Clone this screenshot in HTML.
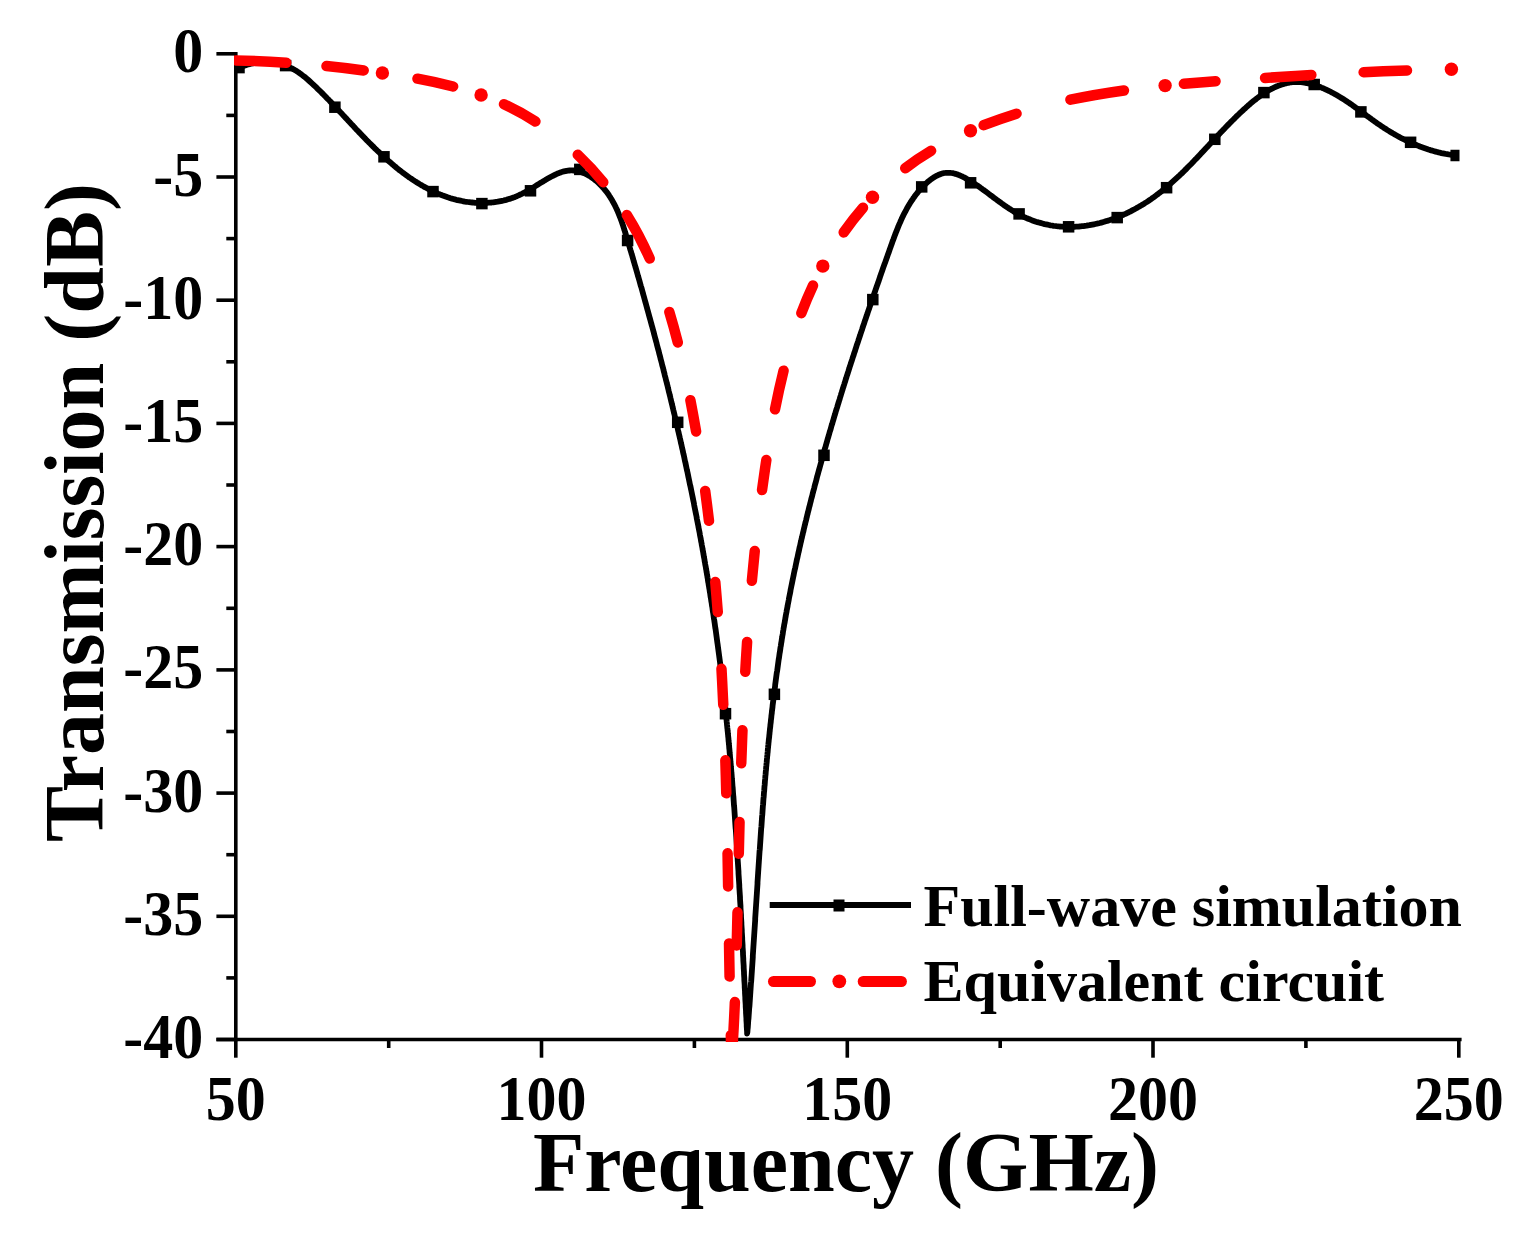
<!DOCTYPE html>
<html><head><meta charset="utf-8"><title>Transmission plot</title><style>html,body{margin:0;padding:0;background:#fff;overflow:hidden;}svg{display:block;}</style></head><body>
<svg width="1528" height="1239" viewBox="0 0 1528 1239">
<defs><clipPath id="pc"><rect x="234" y="40" width="1225.5" height="1002"/></clipPath></defs>
<rect width="1528" height="1239" fill="#fff"/>
<g stroke="#000" stroke-width="3.6" fill="none">
<line x1="235.8" y1="52" x2="235.8" y2="1041.3"/>
<line x1="216.4" y1="1039.5" x2="1461.6" y2="1039.5"/>
<line x1="216.4" y1="53.8" x2="235.8" y2="53.8"/>
<line x1="216.4" y1="177.0" x2="235.8" y2="177.0"/>
<line x1="216.4" y1="300.2" x2="235.8" y2="300.2"/>
<line x1="216.4" y1="423.4" x2="235.8" y2="423.4"/>
<line x1="216.4" y1="546.6" x2="235.8" y2="546.6"/>
<line x1="216.4" y1="669.9" x2="235.8" y2="669.9"/>
<line x1="216.4" y1="793.1" x2="235.8" y2="793.1"/>
<line x1="216.4" y1="916.3" x2="235.8" y2="916.3"/>
<line x1="216.4" y1="1039.5" x2="235.8" y2="1039.5"/>
<line x1="226.3" y1="115.4" x2="235.8" y2="115.4"/>
<line x1="226.3" y1="238.6" x2="235.8" y2="238.6"/>
<line x1="226.3" y1="361.8" x2="235.8" y2="361.8"/>
<line x1="226.3" y1="485.0" x2="235.8" y2="485.0"/>
<line x1="226.3" y1="608.3" x2="235.8" y2="608.3"/>
<line x1="226.3" y1="731.5" x2="235.8" y2="731.5"/>
<line x1="226.3" y1="854.7" x2="235.8" y2="854.7"/>
<line x1="226.3" y1="977.9" x2="235.8" y2="977.9"/>
<line x1="235.8" y1="1039.5" x2="235.8" y2="1057.7"/>
<line x1="541.5" y1="1039.5" x2="541.5" y2="1057.7"/>
<line x1="847.3" y1="1039.5" x2="847.3" y2="1057.7"/>
<line x1="1153.0" y1="1039.5" x2="1153.0" y2="1057.7"/>
<line x1="1458.8" y1="1039.5" x2="1458.8" y2="1057.7"/>
<line x1="388.7" y1="1039.5" x2="388.7" y2="1048"/>
<line x1="694.4" y1="1039.5" x2="694.4" y2="1048"/>
<line x1="1000.2" y1="1039.5" x2="1000.2" y2="1048"/>
<line x1="1305.9" y1="1039.5" x2="1305.9" y2="1048"/>
</g>
<g clip-path="url(#pc)">
<path d="M239.0,67.6 L240.5,67.0 L242.0,66.4 L243.5,65.9 L245.0,65.4 L246.5,64.9 L248.0,64.5 L249.5,64.1 L251.0,63.7 L252.5,63.4 L254.1,63.1 L255.6,62.9 L257.1,62.7 L258.6,62.5 L260.1,62.4 L261.6,62.3 L263.1,62.2 L264.6,62.2 L266.2,62.2 L267.6,62.2 L269.1,62.3 L270.6,62.4 L272.1,62.6 L273.6,62.8 L275.0,63.0 L276.5,63.2 L277.9,63.5 L279.4,63.9 L280.8,64.2 L282.2,64.6 L283.6,65.1 L285.0,65.5 L286.4,66.0 L287.8,66.6 L289.1,67.2 L290.5,67.8 L291.8,68.4 L293.1,69.1 L294.4,69.8 L295.7,70.6 L296.9,71.3 L298.2,72.2 L299.4,73.0 L300.6,73.9 L301.8,74.8 L303.0,75.7 L304.2,76.6 L305.4,77.6 L306.5,78.5 L307.7,79.5 L308.8,80.5 L309.9,81.5 L311.1,82.6 L312.2,83.6 L313.3,84.6 L314.4,85.7 L315.5,86.7 L316.6,87.7 L317.6,88.8 L318.7,89.8 L319.8,90.9 L320.9,91.9 L321.9,93.0 L323.0,94.0 L324.0,95.1 L325.1,96.1 L326.1,97.2 L327.1,98.3 L328.2,99.3 L329.2,100.4 L330.2,101.5 L331.3,102.5 L332.3,103.6 L333.3,104.7 L334.3,105.8 L335.4,106.8 L336.4,107.9 L337.4,109.0 L338.4,110.1 L339.4,111.2 L340.4,112.3 L341.4,113.3 L342.4,114.4 L343.4,115.5 L344.5,116.6 L345.5,117.7 L346.5,118.8 L347.5,119.9 L348.5,121.0 L349.5,122.0 L350.5,123.1 L351.5,124.2 L352.6,125.3 L353.6,126.4 L354.6,127.5 L355.6,128.6 L356.6,129.7 L357.7,130.8 L358.7,131.9 L359.7,132.9 L360.8,134.0 L361.8,135.1 L362.9,136.2 L363.9,137.3 L365.0,138.4 L366.0,139.5 L367.1,140.6 L368.2,141.6 L369.2,142.7 L370.3,143.8 L371.4,144.9 L372.5,146.0 L373.6,147.0 L374.6,148.1 L375.7,149.2 L376.8,150.2 L377.9,151.3 L379.1,152.3 L380.2,153.4 L381.3,154.4 L382.4,155.5 L383.5,156.5 L384.7,157.5 L385.8,158.6 L386.9,159.6 L388.1,160.6 L389.2,161.6 L390.4,162.6 L391.6,163.6 L392.7,164.6 L393.9,165.6 L395.1,166.5 L396.2,167.5 L397.4,168.5 L398.6,169.4 L399.8,170.4 L401.0,171.3 L402.2,172.2 L403.4,173.1 L404.6,174.0 L405.8,174.9 L407.1,175.8 L408.3,176.7 L409.5,177.6 L410.8,178.4 L412.0,179.3 L413.3,180.1 L414.5,180.9 L415.8,181.7 L417.0,182.5 L418.3,183.3 L419.6,184.1 L420.9,184.9 L422.2,185.6 L423.5,186.4 L424.8,187.1 L426.1,187.8 L427.4,188.5 L428.7,189.2 L430.0,189.9 L431.3,190.5 L432.7,191.2 L434.0,191.8 L435.3,192.4 L436.7,193.0 L438.0,193.6 L439.4,194.2 L440.8,194.8 L442.1,195.3 L443.5,195.8 L444.9,196.3 L446.3,196.8 L447.7,197.3 L449.1,197.7 L450.5,198.2 L451.9,198.6 L453.3,199.0 L454.8,199.4 L456.2,199.8 L457.6,200.1 L459.1,200.4 L460.5,200.7 L462.0,201.0 L463.4,201.3 L464.9,201.6 L466.4,201.8 L467.9,202.0 L469.3,202.2 L470.8,202.4 L472.3,202.5 L473.8,202.6 L475.3,202.8 L476.8,202.8 L478.3,202.9 L479.8,202.9 L481.3,203.0 L482.8,203.0 L484.3,202.9 L485.8,202.9 L487.3,202.8 L488.8,202.7 L490.3,202.6 L491.7,202.5 L493.2,202.3 L494.7,202.1 L496.2,201.9 L497.7,201.7 L499.2,201.4 L500.6,201.1 L502.1,200.8 L503.6,200.5 L505.0,200.1 L506.5,199.8 L507.9,199.3 L509.4,198.9 L510.8,198.4 L512.2,198.0 L513.6,197.4 L515.1,196.9 L516.5,196.3 L517.9,195.7 L519.2,195.1 L520.6,194.4 L522.0,193.8 L523.3,193.1 L524.7,192.4 L526.0,191.6 L527.4,190.9 L528.7,190.1 L530.1,189.3 L531.4,188.5 L532.7,187.7 L534.1,186.9 L535.4,186.1 L536.7,185.3 L538.0,184.5 L539.4,183.6 L540.7,182.8 L542.1,182.0 L543.4,181.2 L544.7,180.4 L546.1,179.6 L547.4,178.8 L548.8,178.0 L550.2,177.2 L551.5,176.5 L552.9,175.8 L554.3,175.1 L555.6,174.5 L557.0,173.8 L558.4,173.3 L559.8,172.7 L561.1,172.2 L562.5,171.8 L563.9,171.4 L565.3,171.1 L566.6,170.8 L568.0,170.6 L569.4,170.5 L570.8,170.4 L572.1,170.4 L573.5,170.5 L574.8,170.6 L576.2,170.8 L577.6,171.1 L578.9,171.4 L580.2,171.8 L581.6,172.2 L582.9,172.7 L584.2,173.2 L585.5,173.8 L586.7,174.5 L588.0,175.2 L589.3,175.9 L590.5,176.7 L591.7,177.5 L592.9,178.4 L594.1,179.2 L595.3,180.2 L596.4,181.1 L597.6,182.1 L598.7,183.1 L599.8,184.2 L600.8,185.3 L601.9,186.4 L602.9,187.5 L603.9,188.6 L604.9,189.8 L605.8,190.9 L606.7,192.1 L607.6,193.3 L608.5,194.5 L609.3,195.8 L610.1,197.0 L610.9,198.3 L611.7,199.5 L612.4,200.8 L613.1,202.1 L613.8,203.4 L614.5,204.7 L615.2,206.0 L615.8,207.3 L616.5,208.7 L617.1,210.0 L617.7,211.4 L618.3,212.8 L618.8,214.1 L619.4,215.5 L619.9,216.9 L620.5,218.3 L621.0,219.7 L621.5,221.1 L622.0,222.5 L622.5,223.9 L623.0,225.4 L623.4,226.8 L623.9,228.2 L624.3,229.7 L624.8,231.1 L625.2,232.5 L625.7,234.0 L626.1,235.4 L626.6,236.9 L627.0,238.3 L627.4,239.8 L627.9,241.2 L628.3,242.7 L628.7,244.1 L629.2,245.6 L629.6,247.0 L630.0,248.5 L630.4,249.9 L630.9,251.4 L631.3,252.8 L631.7,254.2 L632.2,255.7 L632.6,257.1 L633.0,258.6 L633.4,260.0 L633.8,261.5 L634.3,262.9 L634.7,264.4 L635.1,265.8 L635.5,267.3 L636.0,268.7 L636.4,270.2 L636.8,271.6 L637.2,273.1 L637.6,274.5 L638.0,276.0 L638.5,277.4 L638.9,278.9 L639.3,280.3 L639.7,281.8 L640.1,283.2 L640.5,284.7 L640.9,286.1 L641.4,287.6 L641.8,289.1 L642.2,290.5 L642.6,292.0 L643.0,293.4 L643.4,294.9 L643.8,296.3 L644.2,297.8 L644.6,299.2 L645.0,300.7 L645.4,302.1 L645.8,303.6 L646.2,305.0 L646.6,306.5 L647.0,307.9 L647.4,309.4 L647.8,310.8 L648.2,312.3 L648.6,313.7 L649.0,315.2 L649.4,316.7 L649.8,318.1 L650.2,319.6 L650.6,321.0 L651.0,322.5 L651.4,323.9 L651.8,325.4 L652.2,326.8 L652.6,328.3 L653.0,329.7 L653.4,331.2 L653.8,332.6 L654.1,334.1 L654.5,335.6 L654.9,337.0 L655.3,338.5 L655.7,339.9 L656.1,341.4 L656.5,342.8 L656.8,344.3 L657.2,345.7 L657.6,347.2 L658.0,348.7 L658.4,350.1 L658.8,351.6 L659.1,353.0 L659.5,354.5 L659.9,355.9 L660.3,357.4 L660.6,358.9 L661.0,360.3 L661.4,361.8 L661.8,363.2 L662.1,364.7 L662.5,366.1 L662.9,367.6 L663.3,369.1 L663.6,370.5 L664.0,372.0 L664.4,373.4 L664.7,374.9 L665.1,376.4 L665.5,377.8 L665.8,379.3 L666.2,380.7 L666.6,382.2 L666.9,383.6 L667.3,385.1 L667.7,386.6 L668.0,388.0 L668.4,389.5 L668.7,390.9 L669.1,392.4 L669.5,393.9 L669.8,395.3 L670.2,396.8 L670.5,398.2 L670.9,399.7 L671.2,401.2 L671.6,402.6 L671.9,404.1 L672.3,405.6 L672.6,407.0 L673.0,408.5 L673.3,409.9 L673.7,411.4 L674.0,412.9 L674.4,414.3 L674.7,415.8 L675.1,417.2 L675.4,418.7 L675.8,420.2 L676.1,421.6 L676.4,423.1 L676.8,424.6 L677.1,426.0 L677.5,427.5 L677.8,428.9 L678.1,430.4 L678.5,431.9 L678.8,433.3 L679.1,434.8 L679.5,436.3 L679.8,437.7 L680.2,439.2 L680.5,440.7 L680.8,442.1 L681.1,443.6 L681.5,445.1 L681.8,446.5 L682.1,448.0 L682.5,449.5 L682.8,450.9 L683.1,452.4 L683.4,453.8 L683.8,455.3 L684.1,456.8 L684.4,458.2 L684.7,459.7 L685.0,461.2 L685.4,462.6 L685.7,464.1 L686.0,465.6 L686.3,467.0 L686.6,468.5 L686.9,470.0 L687.3,471.5 L687.6,472.9 L687.9,474.4 L688.2,475.9 L688.5,477.3 L688.8,478.8 L689.1,480.3 L689.4,481.7 L689.7,483.2 L690.0,484.7 L690.4,486.1 L690.7,487.6 L691.0,489.1 L691.3,490.5 L691.6,492.0 L691.9,493.5 L692.2,495.0 L692.5,496.4 L692.8,497.9 L693.1,499.4 L693.4,500.8 L693.7,502.3 L694.0,503.8 L694.2,505.2 L694.5,506.7 L694.8,508.2 L695.1,509.7 L695.4,511.1 L695.7,512.6 L696.0,514.1 L696.3,515.5 L696.6,517.0 L696.8,518.5 L697.1,520.0 L697.4,521.4 L697.7,522.9 L698.0,524.4 L698.3,525.9 L698.5,527.3 L698.8,528.8 L699.1,530.3 L699.4,531.7 L699.7,533.2 L699.9,534.7 L700.2,536.2 L700.5,537.6 L700.8,539.1 L701.0,540.6 L701.3,542.1 L701.6,543.5 L701.8,545.0 L702.1,546.5 L702.4,548.0 L702.6,549.4 L702.9,550.9 L703.2,552.4 L703.4,553.9 L703.7,555.4 L703.9,556.8 L704.2,558.3 L704.5,559.8 L704.7,561.3 L705.0,562.7 L705.2,564.2 L705.5,565.7 L705.8,567.2 L706.0,568.6 L706.3,570.1 L706.5,571.6 L706.8,573.1 L707.0,574.6 L707.3,576.0 L707.5,577.5 L707.8,579.0 L708.0,580.5 L708.2,582.0 L708.5,583.4 L708.7,584.9 L709.0,586.4 L709.2,587.9 L709.5,589.4 L709.7,590.8 L709.9,592.3 L710.2,593.8 L710.4,595.3 L710.6,596.8 L710.9,598.2 L711.1,599.7 L711.3,601.2 L711.6,602.7 L711.8,604.2 L712.0,605.6 L712.3,607.1 L712.5,608.6 L712.7,610.1 L712.9,611.6 L713.2,613.1 L713.4,614.5 L713.6,616.0 L713.8,617.5 L714.0,619.0 L714.3,620.5 L714.5,622.0 L714.7,623.4 L714.9,624.9 L715.1,626.4 L715.3,627.9 L715.6,629.4 L715.8,630.9 L716.0,632.4 L716.2,633.8 L716.4,635.3 L716.6,636.8 L716.8,638.3 L717.0,639.8 L717.2,641.3 L717.4,642.8 L717.6,644.2 L717.8,645.7 L718.0,647.2 L718.2,648.7 L718.4,650.2 L718.6,651.7 L718.8,653.2 L719.0,654.7 L719.2,656.1 L719.4,657.6 L719.6,659.1 L719.8,660.6 L720.0,662.1 L720.2,663.6 L720.3,665.1 L720.5,666.6 L720.7,668.1 L720.9,669.5 L721.1,671.0 L721.3,672.5 L721.4,674.0 L721.6,675.5 L721.8,677.0 L722.0,678.5 L722.2,680.0 L722.3,681.5 L722.5,683.0 L722.7,684.4 L722.9,685.9 L723.0,687.4 L723.2,688.9 L723.4,690.4 L723.5,691.9 L723.7,693.4 L723.9,694.9 L724.0,696.4 L724.2,697.9 L724.4,699.4 L724.5,700.9 L724.7,702.4 L724.9,703.8 L725.0,705.3 L725.2,706.8 L725.4,708.3 L725.5,709.8 L725.7,711.3 L725.8,712.8 L726.0,714.3 L726.1,715.8 L726.3,717.3 L726.4,718.8 L726.6,720.3 L726.7,721.8 L726.9,723.3 L727.0,724.8 L727.2,726.3 L727.3,727.8 L727.5,729.2 L727.6,730.7 L727.8,732.2 L727.9,733.7 L728.1,735.2 L728.2,736.7 L728.4,738.2 L728.5,739.7 L728.6,741.2 L728.8,742.7 L728.9,744.2 L729.1,745.7 L729.2,747.2 L729.3,748.7 L729.5,750.2 L729.6,751.7 L729.7,753.2 L729.9,754.7 L730.0,756.2 L730.1,757.7 L730.3,759.2 L730.4,760.7 L730.5,762.2 L730.7,763.7 L730.8,765.2 L730.9,766.7 L731.1,768.2 L731.2,769.7 L731.3,771.2 L731.4,772.7 L731.6,774.2 L731.7,775.7 L731.8,777.2 L731.9,778.7 L732.1,780.2 L732.2,781.7 L732.3,783.2 L732.4,784.7 L732.5,786.2 L732.7,787.6 L732.8,789.1 L732.9,790.6 L733.0,792.1 L733.1,793.6 L733.2,795.1 L733.4,796.6 L733.5,798.1 L733.6,799.6 L733.7,801.1 L733.8,802.6 L733.9,804.1 L734.0,805.6 L734.2,807.1 L734.3,808.6 L734.4,810.1 L734.5,811.6 L734.6,813.1 L734.7,814.6 L734.8,816.1 L734.9,817.6 L735.0,819.1 L735.1,820.6 L735.2,822.1 L735.3,823.6 L735.4,825.1 L735.5,826.6 L735.6,828.1 L735.8,829.6 L735.9,831.1 L736.0,832.6 L736.1,834.1 L736.2,835.6 L736.3,837.1 L736.4,838.7 L736.5,840.2 L736.6,841.7 L736.7,843.2 L736.8,844.7 L736.9,846.2 L737.0,847.7 L737.1,849.2 L737.1,850.7 L737.2,852.2 L737.3,853.7 L737.4,855.2 L737.5,856.7 L737.6,858.2 L737.7,859.7 L737.8,861.2 L737.9,862.7 L738.0,864.2 L738.1,865.7 L738.2,867.2 L738.3,868.7 L738.4,870.2 L738.5,871.7 L738.5,873.2 L738.6,874.7 L738.7,876.2 L738.8,877.7 L738.9,879.2 L739.0,880.7 L739.1,882.2 L739.2,883.7 L739.3,885.2 L739.3,886.7 L739.4,888.2 L739.5,889.7 L739.6,891.2 L739.7,892.7 L739.8,894.2 L739.9,895.7 L740.0,897.2 L740.0,898.7 L740.1,900.2 L740.2,901.7 L740.3,903.2 L740.4,904.7 L740.5,906.2 L740.5,907.7 L740.6,909.2 L740.7,910.7 L740.8,912.2 L740.9,913.7 L741.0,915.2 L741.0,916.7 L741.1,918.2 L741.2,919.7 L741.3,921.2 L741.4,922.7 L741.4,924.2 L741.5,925.7 L741.6,927.2 L741.7,928.7 L741.8,930.2 L741.8,931.7 L741.9,933.2 L742.0,934.7 L742.1,936.2 L742.2,937.7 L742.2,939.2 L742.3,940.7 L742.4,942.2 L742.5,943.7 L742.6,945.2 L742.6,946.7 L742.7,948.2 L742.8,949.7 L742.9,951.2 L743.0,952.7 L743.0,954.2 L743.1,955.7 L743.2,957.2 L743.3,958.7 L743.3,960.2 L743.4,961.7 L743.5,963.2 L743.6,964.7 L743.7,966.2 L743.7,967.7 L743.8,969.2 L743.9,970.7 L744.0,972.2 L744.0,973.7 L744.1,975.2 L744.2,976.7 L744.3,978.2 L744.3,979.7 L744.4,981.2 L744.5,982.6 L744.6,984.1 L744.7,985.6 L744.7,987.1 L744.8,988.6 L744.9,990.1 L745.0,991.6 L745.0,993.1 L745.1,994.6 L745.2,996.1 L745.3,997.6 L745.3,999.1 L745.4,1000.6 L745.5,1002.1 L745.6,1003.6 L745.7,1005.1 L745.7,1006.6 L745.8,1008.1 L745.9,1009.6 L746.0,1011.1 L746.0,1012.6 L746.1,1014.1 L746.2,1015.6 L746.3,1017.1 L746.4,1018.6 L746.4,1020.0 L746.5,1021.5 L746.6,1023.0 L746.7,1024.5 L746.7,1026.0 L746.8,1027.5 L746.9,1029.0 L747.0,1030.5 L747.1,1032.0 L747.1,1033.5 L747.4,1032.0 L747.5,1030.5 L747.6,1029.0 L747.8,1027.5 L747.9,1026.1 L748.0,1024.6 L748.1,1023.1 L748.2,1021.6 L748.3,1020.1 L748.5,1018.6 L748.6,1017.1 L748.7,1015.6 L748.8,1014.1 L748.9,1012.7 L749.0,1011.2 L749.1,1009.7 L749.2,1008.2 L749.4,1006.7 L749.5,1005.2 L749.6,1003.7 L749.7,1002.2 L749.8,1000.7 L749.9,999.2 L750.0,997.7 L750.1,996.2 L750.2,994.8 L750.3,993.3 L750.4,991.8 L750.5,990.3 L750.6,988.8 L750.7,987.3 L750.8,985.8 L750.9,984.3 L751.0,982.8 L751.2,981.3 L751.3,979.8 L751.4,978.3 L751.5,976.8 L751.6,975.3 L751.7,973.8 L751.8,972.3 L751.9,970.8 L752.0,969.3 L752.1,967.9 L752.2,966.4 L752.3,964.9 L752.4,963.4 L752.5,961.9 L752.6,960.4 L752.7,958.9 L752.8,957.4 L752.8,955.9 L752.9,954.4 L753.0,952.9 L753.1,951.4 L753.2,949.9 L753.3,948.4 L753.4,946.9 L753.5,945.4 L753.6,943.9 L753.7,942.4 L753.8,940.9 L753.9,939.4 L754.0,937.9 L754.1,936.4 L754.2,934.9 L754.3,933.4 L754.4,931.9 L754.5,930.4 L754.6,928.9 L754.7,927.4 L754.8,925.9 L754.9,924.4 L755.0,922.9 L755.1,921.4 L755.2,919.9 L755.2,918.4 L755.3,916.9 L755.4,915.4 L755.5,913.9 L755.6,912.4 L755.7,910.9 L755.8,909.4 L755.9,907.9 L756.0,906.4 L756.1,904.9 L756.2,903.4 L756.3,901.9 L756.4,900.4 L756.5,898.9 L756.6,897.4 L756.7,895.9 L756.8,894.4 L756.9,892.9 L757.0,891.4 L757.1,889.9 L757.2,888.4 L757.3,886.9 L757.4,885.4 L757.5,883.9 L757.5,882.4 L757.6,880.9 L757.7,879.4 L757.8,877.9 L757.9,876.4 L758.0,874.9 L758.1,873.4 L758.2,871.9 L758.3,870.4 L758.4,868.9 L758.5,867.4 L758.6,865.9 L758.7,864.4 L758.8,862.9 L758.9,861.4 L759.0,859.9 L759.1,858.4 L759.2,856.9 L759.3,855.4 L759.4,853.9 L759.5,852.3 L759.6,850.8 L759.8,849.3 L759.9,847.8 L760.0,846.3 L760.1,844.8 L760.2,843.3 L760.3,841.8 L760.4,840.3 L760.5,838.8 L760.6,837.3 L760.7,835.8 L760.8,834.3 L760.9,832.8 L761.0,831.3 L761.1,829.8 L761.2,828.3 L761.4,826.8 L761.5,825.3 L761.6,823.8 L761.7,822.3 L761.8,820.8 L761.9,819.3 L762.0,817.8 L762.1,816.3 L762.3,814.8 L762.4,813.3 L762.5,811.8 L762.6,810.3 L762.7,808.8 L762.8,807.3 L762.9,805.8 L763.1,804.3 L763.2,802.8 L763.3,801.3 L763.4,799.8 L763.5,798.3 L763.7,796.8 L763.8,795.3 L763.9,793.8 L764.0,792.3 L764.2,790.8 L764.3,789.3 L764.4,787.8 L764.5,786.3 L764.7,784.8 L764.8,783.3 L764.9,781.8 L765.0,780.3 L765.2,778.8 L765.3,777.3 L765.4,775.8 L765.6,774.3 L765.7,772.8 L765.8,771.3 L766.0,769.8 L766.1,768.3 L766.2,766.8 L766.4,765.3 L766.5,763.8 L766.7,762.3 L766.8,760.8 L766.9,759.3 L767.1,757.8 L767.2,756.3 L767.4,754.8 L767.5,753.3 L767.7,751.8 L767.8,750.3 L767.9,748.8 L768.1,747.3 L768.2,745.8 L768.4,744.3 L768.5,742.8 L768.7,741.4 L768.8,739.9 L769.0,738.4 L769.2,736.9 L769.3,735.4 L769.5,733.9 L769.6,732.4 L769.8,730.9 L769.9,729.4 L770.1,727.9 L770.3,726.4 L770.4,724.9 L770.6,723.4 L770.8,721.9 L770.9,720.4 L771.1,718.9 L771.3,717.4 L771.4,715.9 L771.6,714.4 L771.8,713.0 L771.9,711.5 L772.1,710.0 L772.3,708.5 L772.5,707.0 L772.6,705.5 L772.8,704.0 L773.0,702.5 L773.2,701.0 L773.4,699.5 L773.5,698.0 L773.7,696.5 L773.9,695.1 L774.1,693.6 L774.3,692.1 L774.5,690.6 L774.7,689.1 L774.9,687.6 L775.1,686.1 L775.2,684.6 L775.4,683.1 L775.6,681.7 L775.8,680.2 L776.0,678.7 L776.2,677.2 L776.4,675.7 L776.6,674.2 L776.8,672.7 L777.1,671.2 L777.3,669.8 L777.5,668.3 L777.7,666.8 L777.9,665.3 L778.1,663.8 L778.3,662.3 L778.5,660.8 L778.7,659.4 L779.0,657.9 L779.2,656.4 L779.4,654.9 L779.6,653.4 L779.9,651.9 L780.1,650.5 L780.3,649.0 L780.5,647.5 L780.8,646.0 L781.0,644.5 L781.2,643.1 L781.5,641.6 L781.7,640.1 L781.9,638.6 L782.2,637.1 L782.4,635.7 L782.7,634.2 L782.9,632.7 L783.1,631.2 L783.4,629.7 L783.6,628.3 L783.9,626.8 L784.1,625.3 L784.4,623.8 L784.7,622.4 L784.9,620.9 L785.2,619.4 L785.4,617.9 L785.7,616.4 L785.9,615.0 L786.2,613.5 L786.5,612.0 L786.7,610.5 L787.0,609.1 L787.3,607.6 L787.6,606.1 L787.8,604.7 L788.1,603.2 L788.4,601.7 L788.7,600.2 L788.9,598.8 L789.2,597.3 L789.5,595.8 L789.8,594.4 L790.1,592.9 L790.4,591.4 L790.6,589.9 L790.9,588.5 L791.2,587.0 L791.5,585.5 L791.8,584.1 L792.1,582.6 L792.4,581.1 L792.7,579.7 L793.0,578.2 L793.3,576.7 L793.6,575.3 L793.9,573.8 L794.2,572.3 L794.5,570.9 L794.8,569.4 L795.2,567.9 L795.5,566.5 L795.8,565.0 L796.1,563.5 L796.4,562.1 L796.7,560.6 L797.0,559.1 L797.4,557.7 L797.7,556.2 L798.0,554.7 L798.3,553.3 L798.7,551.8 L799.0,550.4 L799.3,548.9 L799.6,547.4 L800.0,546.0 L800.3,544.5 L800.6,543.1 L801.0,541.6 L801.3,540.1 L801.6,538.7 L802.0,537.2 L802.3,535.7 L802.7,534.3 L803.0,532.8 L803.4,531.4 L803.7,529.9 L804.0,528.5 L804.4,527.0 L804.7,525.5 L805.1,524.1 L805.4,522.6 L805.8,521.2 L806.2,519.7 L806.5,518.3 L806.9,516.8 L807.2,515.3 L807.6,513.9 L807.9,512.4 L808.3,511.0 L808.7,509.5 L809.0,508.1 L809.4,506.6 L809.8,505.2 L810.1,503.7 L810.5,502.3 L810.9,500.8 L811.2,499.3 L811.6,497.9 L812.0,496.4 L812.4,495.0 L812.7,493.5 L813.1,492.1 L813.5,490.6 L813.9,489.2 L814.3,487.7 L814.6,486.3 L815.0,484.8 L815.4,483.4 L815.8,481.9 L816.2,480.5 L816.6,479.0 L816.9,477.6 L817.3,476.1 L817.7,474.7 L818.1,473.2 L818.5,471.8 L818.9,470.3 L819.3,468.9 L819.7,467.4 L820.1,466.0 L820.5,464.5 L820.9,463.1 L821.3,461.7 L821.7,460.2 L822.1,458.8 L822.5,457.3 L822.9,455.9 L823.3,454.4 L823.7,453.0 L824.1,451.5 L824.5,450.1 L824.9,448.6 L825.4,447.2 L825.8,445.7 L826.2,444.3 L826.6,442.9 L827.0,441.4 L827.4,440.0 L827.8,438.5 L828.3,437.1 L828.7,435.6 L829.1,434.2 L829.5,432.8 L829.9,431.3 L830.4,429.9 L830.8,428.4 L831.2,427.0 L831.6,425.5 L832.1,424.1 L832.5,422.7 L832.9,421.2 L833.4,419.8 L833.8,418.3 L834.2,416.9 L834.6,415.5 L835.1,414.0 L835.5,412.6 L835.9,411.1 L836.4,409.7 L836.8,408.3 L837.3,406.8 L837.7,405.4 L838.1,404.0 L838.6,402.5 L839.0,401.1 L839.5,399.6 L839.9,398.2 L840.3,396.8 L840.8,395.3 L841.2,393.9 L841.7,392.4 L842.1,391.0 L842.6,389.6 L843.0,388.1 L843.5,386.7 L843.9,385.3 L844.4,383.8 L844.8,382.4 L845.3,381.0 L845.7,379.5 L846.2,378.1 L846.6,376.7 L847.1,375.2 L847.6,373.8 L848.0,372.4 L848.5,370.9 L848.9,369.5 L849.4,368.0 L849.8,366.6 L850.3,365.2 L850.8,363.7 L851.2,362.3 L851.7,360.9 L852.2,359.4 L852.6,358.0 L853.1,356.6 L853.6,355.2 L854.0,353.7 L854.5,352.3 L855.0,350.9 L855.4,349.4 L855.9,348.0 L856.4,346.6 L856.8,345.1 L857.3,343.7 L857.8,342.3 L858.3,340.8 L858.7,339.4 L859.2,338.0 L859.7,336.5 L860.2,335.1 L860.6,333.7 L861.1,332.3 L861.6,330.8 L862.1,329.4 L862.5,328.0 L863.0,326.5 L863.5,325.1 L864.0,323.7 L864.5,322.2 L864.9,320.8 L865.4,319.4 L865.9,318.0 L866.4,316.5 L866.9,315.1 L867.4,313.7 L867.8,312.3 L868.3,310.8 L868.8,309.4 L869.3,308.0 L869.8,306.5 L870.3,305.1 L870.8,303.7 L871.3,302.3 L871.7,300.8 L872.2,299.4 L872.7,298.0 L873.2,296.6 L873.7,295.1 L874.2,293.7 L874.7,292.3 L875.2,290.9 L875.7,289.4 L876.2,288.0 L876.7,286.6 L877.2,285.1 L877.7,283.7 L878.2,282.3 L878.7,280.9 L879.2,279.4 L879.7,278.0 L880.1,276.6 L880.6,275.2 L881.1,273.8 L881.6,272.3 L882.1,270.9 L882.6,269.5 L883.1,268.1 L883.6,266.6 L884.1,265.2 L884.6,263.8 L885.2,262.4 L885.7,260.9 L886.2,259.5 L886.7,258.1 L887.2,256.7 L887.7,255.2 L888.2,253.8 L888.7,252.4 L889.2,251.0 L889.7,249.6 L890.2,248.1 L890.7,246.7 L891.2,245.3 L891.7,243.9 L892.2,242.5 L892.7,241.0 L893.3,239.6 L893.8,238.2 L894.3,236.8 L894.8,235.4 L895.4,234.0 L895.9,232.6 L896.5,231.2 L897.0,229.8 L897.6,228.4 L898.1,227.0 L898.7,225.6 L899.3,224.2 L899.9,222.9 L900.5,221.5 L901.1,220.1 L901.7,218.8 L902.3,217.4 L903.0,216.1 L903.6,214.8 L904.3,213.4 L905.0,212.1 L905.7,210.8 L906.4,209.5 L907.1,208.2 L907.8,206.9 L908.6,205.6 L909.3,204.3 L910.1,203.1 L910.9,201.8 L911.7,200.6 L912.6,199.4 L913.4,198.1 L914.3,196.9 L915.1,195.7 L916.0,194.5 L917.0,193.3 L917.9,192.2 L918.9,191.0 L919.8,189.9 L920.9,188.8 L921.9,187.6 L922.9,186.5 L924.0,185.5 L925.1,184.4 L926.2,183.3 L927.3,182.3 L928.5,181.3 L929.6,180.4 L930.8,179.5 L932.0,178.6 L933.2,177.8 L934.5,177.0 L935.7,176.3 L937.0,175.6 L938.2,175.0 L939.5,174.5 L940.8,174.0 L942.1,173.6 L943.4,173.2 L944.7,173.0 L946.1,172.8 L947.4,172.8 L948.7,172.8 L950.1,172.8 L951.4,173.0 L952.8,173.2 L954.1,173.5 L955.5,173.9 L956.9,174.3 L958.2,174.8 L959.6,175.3 L960.9,175.9 L962.3,176.5 L963.6,177.2 L965.0,177.9 L966.3,178.6 L967.6,179.4 L969.0,180.1 L970.3,180.9 L971.6,181.8 L972.9,182.6 L974.2,183.4 L975.5,184.3 L976.7,185.1 L978.0,186.0 L979.3,186.9 L980.5,187.8 L981.8,188.7 L983.0,189.6 L984.3,190.5 L985.5,191.4 L986.7,192.3 L988.0,193.3 L989.2,194.2 L990.4,195.1 L991.7,196.0 L992.9,196.9 L994.1,197.9 L995.4,198.8 L996.6,199.7 L997.8,200.6 L999.0,201.5 L1000.3,202.4 L1001.5,203.3 L1002.8,204.2 L1004.0,205.1 L1005.2,206.0 L1006.5,206.8 L1007.8,207.7 L1009.0,208.5 L1010.3,209.3 L1011.6,210.1 L1012.8,210.9 L1014.1,211.7 L1015.4,212.5 L1016.7,213.2 L1018.0,214.0 L1019.4,214.7 L1020.7,215.4 L1022.1,216.0 L1023.4,216.7 L1024.8,217.3 L1026.1,217.9 L1027.5,218.5 L1028.9,219.1 L1030.3,219.6 L1031.7,220.2 L1033.1,220.7 L1034.5,221.2 L1036.0,221.7 L1037.4,222.1 L1038.8,222.5 L1040.3,222.9 L1041.7,223.3 L1043.2,223.7 L1044.6,224.1 L1046.1,224.4 L1047.6,224.7 L1049.0,225.0 L1050.5,225.3 L1052.0,225.5 L1053.5,225.8 L1055.0,226.0 L1056.5,226.2 L1058.0,226.3 L1059.4,226.5 L1060.9,226.6 L1062.4,226.7 L1063.9,226.8 L1065.4,226.9 L1066.9,226.9 L1068.5,226.9 L1070.0,226.9 L1071.5,226.9 L1073.0,226.9 L1074.5,226.8 L1076.0,226.7 L1077.5,226.7 L1079.0,226.5 L1080.5,226.4 L1082.0,226.2 L1083.5,226.1 L1085.0,225.9 L1086.5,225.7 L1088.0,225.4 L1089.4,225.2 L1090.9,224.9 L1092.4,224.6 L1093.9,224.3 L1095.4,224.0 L1096.9,223.7 L1098.3,223.3 L1099.8,223.0 L1101.3,222.6 L1102.7,222.2 L1104.2,221.8 L1105.7,221.3 L1107.1,220.9 L1108.6,220.4 L1110.0,220.0 L1111.4,219.5 L1112.9,219.0 L1114.3,218.4 L1115.7,217.9 L1117.1,217.3 L1118.6,216.8 L1120.0,216.2 L1121.4,215.6 L1122.8,215.0 L1124.1,214.4 L1125.5,213.8 L1126.9,213.1 L1128.3,212.5 L1129.6,211.8 L1131.0,211.1 L1132.3,210.4 L1133.7,209.7 L1135.0,209.0 L1136.3,208.3 L1137.6,207.5 L1138.9,206.8 L1140.2,206.0 L1141.5,205.3 L1142.8,204.5 L1144.1,203.7 L1145.3,202.9 L1146.6,202.1 L1147.8,201.3 L1149.0,200.5 L1150.3,199.6 L1151.5,198.8 L1152.7,197.9 L1153.9,197.1 L1155.1,196.2 L1156.3,195.3 L1157.5,194.4 L1158.6,193.5 L1159.8,192.6 L1161.0,191.7 L1162.1,190.8 L1163.3,189.9 L1164.4,188.9 L1165.5,188.0 L1166.7,187.0 L1167.8,186.1 L1168.9,185.1 L1170.0,184.2 L1171.1,183.2 L1172.2,182.2 L1173.3,181.2 L1174.4,180.2 L1175.5,179.2 L1176.6,178.2 L1177.7,177.2 L1178.8,176.2 L1179.8,175.2 L1180.9,174.2 L1182.0,173.1 L1183.0,172.1 L1184.1,171.1 L1185.1,170.0 L1186.2,169.0 L1187.2,167.9 L1188.3,166.8 L1189.3,165.8 L1190.4,164.7 L1191.4,163.7 L1192.4,162.6 L1193.5,161.5 L1194.5,160.4 L1195.5,159.3 L1196.6,158.3 L1197.6,157.2 L1198.6,156.1 L1199.7,155.0 L1200.7,153.9 L1201.7,152.8 L1202.7,151.7 L1203.8,150.6 L1204.8,149.5 L1205.8,148.4 L1206.9,147.3 L1207.9,146.2 L1208.9,145.1 L1209.9,144.0 L1211.0,142.9 L1212.0,141.8 L1213.0,140.6 L1214.1,139.5 L1215.1,138.4 L1216.2,137.3 L1217.2,136.2 L1218.2,135.1 L1219.3,134.0 L1220.3,132.9 L1221.4,131.8 L1222.4,130.7 L1223.5,129.6 L1224.6,128.5 L1225.6,127.4 L1226.7,126.2 L1227.8,125.1 L1228.8,124.1 L1229.9,123.0 L1231.0,121.9 L1232.1,120.8 L1233.2,119.7 L1234.3,118.6 L1235.4,117.5 L1236.5,116.4 L1237.6,115.3 L1238.7,114.3 L1239.8,113.2 L1241.0,112.1 L1242.1,111.1 L1243.3,110.0 L1244.4,108.9 L1245.6,107.9 L1246.7,106.9 L1247.9,105.8 L1249.1,104.8 L1250.2,103.8 L1251.4,102.8 L1252.6,101.8 L1253.8,100.8 L1255.0,99.9 L1256.2,98.9 L1257.4,98.0 L1258.6,97.1 L1259.9,96.2 L1261.1,95.3 L1262.3,94.4 L1263.6,93.6 L1264.8,92.8 L1266.1,92.0 L1267.4,91.2 L1268.6,90.4 L1269.9,89.7 L1271.2,89.0 L1272.5,88.4 L1273.8,87.7 L1275.1,87.1 L1276.4,86.5 L1277.7,86.0 L1279.1,85.4 L1280.4,85.0 L1281.7,84.5 L1283.1,84.1 L1284.4,83.7 L1285.8,83.4 L1287.2,83.0 L1288.5,82.8 L1289.9,82.5 L1291.3,82.3 L1292.7,82.2 L1294.1,82.1 L1295.5,82.0 L1296.9,82.0 L1298.3,82.0 L1299.8,82.1 L1301.2,82.2 L1302.6,82.4 L1304.1,82.5 L1305.5,82.8 L1307.0,83.1 L1308.4,83.4 L1309.9,83.7 L1311.3,84.1 L1312.8,84.5 L1314.3,84.9 L1315.7,85.4 L1317.2,85.9 L1318.6,86.4 L1320.1,87.0 L1321.5,87.6 L1323.0,88.2 L1324.4,88.8 L1325.8,89.5 L1327.2,90.1 L1328.7,90.8 L1330.1,91.5 L1331.5,92.3 L1332.9,93.0 L1334.2,93.7 L1335.6,94.5 L1337.0,95.3 L1338.3,96.1 L1339.7,96.9 L1341.0,97.7 L1342.3,98.5 L1343.6,99.3 L1344.9,100.1 L1346.1,101.0 L1347.4,101.8 L1348.7,102.7 L1349.9,103.5 L1351.2,104.4 L1352.4,105.2 L1353.6,106.1 L1354.8,107.0 L1356.0,107.8 L1357.3,108.7 L1358.5,109.6 L1359.7,110.5 L1360.9,111.4 L1362.0,112.2 L1363.2,113.1 L1364.4,114.0 L1365.6,114.9 L1366.8,115.8 L1368.0,116.6 L1369.2,117.5 L1370.4,118.4 L1371.6,119.3 L1372.8,120.1 L1374.0,121.0 L1375.2,121.9 L1376.4,122.7 L1377.6,123.6 L1378.8,124.4 L1380.0,125.2 L1381.3,126.1 L1382.5,126.9 L1383.7,127.7 L1385.0,128.5 L1386.3,129.3 L1387.5,130.1 L1388.8,130.9 L1390.1,131.7 L1391.4,132.5 L1392.7,133.3 L1394.0,134.0 L1395.3,134.8 L1396.6,135.5 L1397.9,136.2 L1399.2,136.9 L1400.6,137.7 L1401.9,138.4 L1403.3,139.0 L1404.6,139.7 L1406.0,140.4 L1407.4,141.1 L1408.7,141.7 L1410.1,142.3 L1411.5,143.0 L1412.9,143.6 L1414.3,144.2 L1415.7,144.8 L1417.1,145.3 L1418.5,145.9 L1419.9,146.5 L1421.3,147.0 L1422.7,147.5 L1424.1,148.0 L1425.6,148.5 L1427.0,149.0 L1428.4,149.5 L1429.9,149.9 L1431.3,150.4 L1432.7,150.8 L1434.2,151.2 L1435.6,151.6 L1437.1,152.0 L1438.6,152.4 L1440.0,152.7 L1441.5,153.1 L1442.9,153.4 L1444.4,153.7 L1445.9,154.0 L1447.3,154.2 L1448.8,154.5 L1450.3,154.7 L1451.8,154.9 L1453.2,155.2 L1454.7,155.3 L1456.2,155.5" fill="none" stroke="#000" stroke-width="5.8" stroke-linejoin="round"/>
<rect x="233.25" y="61.85" width="11.5" height="11.5" fill="#000"/>
<rect x="279.85" y="59.85" width="11.5" height="11.5" fill="#000"/>
<rect x="329.15" y="101.45" width="11.5" height="11.5" fill="#000"/>
<rect x="378.25" y="151.05" width="11.5" height="11.5" fill="#000"/>
<rect x="427.25" y="185.85" width="11.5" height="11.5" fill="#000"/>
<rect x="476.15" y="197.85" width="11.5" height="11.5" fill="#000"/>
<rect x="524.75" y="185.05" width="11.5" height="11.5" fill="#000"/>
<rect x="574.05" y="163.65" width="11.5" height="11.5" fill="#000"/>
<rect x="621.85" y="234.75" width="11.5" height="11.5" fill="#000"/>
<rect x="671.95" y="416.55" width="11.5" height="11.5" fill="#000"/>
<rect x="719.75" y="707.95" width="11.5" height="11.5" fill="#000"/>
<rect x="768.65" y="688.55" width="11.5" height="11.5" fill="#000"/>
<rect x="818.25" y="449.55" width="11.5" height="11.5" fill="#000"/>
<rect x="867.05" y="293.85" width="11.5" height="11.5" fill="#000"/>
<rect x="915.95" y="181.15" width="11.5" height="11.5" fill="#000"/>
<rect x="964.85" y="177.05" width="11.5" height="11.5" fill="#000"/>
<rect x="1013.35" y="208.15" width="11.5" height="11.5" fill="#000"/>
<rect x="1062.85" y="221.05" width="11.5" height="11.5" fill="#000"/>
<rect x="1111.45" y="211.85" width="11.5" height="11.5" fill="#000"/>
<rect x="1160.85" y="181.95" width="11.5" height="11.5" fill="#000"/>
<rect x="1209.05" y="133.55" width="11.5" height="11.5" fill="#000"/>
<rect x="1258.15" y="86.85" width="11.5" height="11.5" fill="#000"/>
<rect x="1308.45" y="78.75" width="11.5" height="11.5" fill="#000"/>
<rect x="1355.15" y="106.15" width="11.5" height="11.5" fill="#000"/>
<rect x="1404.85" y="136.55" width="11.5" height="11.5" fill="#000"/>
<rect x="1450.45" y="149.75" width="11.5" height="11.5" fill="#000"/>
<path d="M236.00,60.49 C252.77,60.82 269.53,61.56 286.26,62.68 M326.50,66.09 C338.92,67.36 351.32,68.82 363.70,70.44 M417.48,78.69 C429.43,80.90 441.33,83.43 453.10,86.50 M504.02,104.28 C514.87,109.27 525.35,115.04 535.40,121.48 M577.74,154.77 C586.81,163.38 595.33,172.57 603.27,182.24 M626.85,215.07 C635.52,228.96 643.09,243.53 649.71,258.50 M669.34,311.91 C672.42,322.04 675.22,332.26 677.81,342.52 M690.40,400.16 C692.41,410.57 694.30,421.01 696.09,431.47 M705.19,491.00 C706.53,500.94 707.79,510.90 708.97,520.86 M715.29,582.07 C716.18,592.03 717.00,602.00 717.76,611.97 M721.48,668.84 C722.14,680.82 722.74,692.81 723.27,704.79 M725.36,760.26 C725.70,771.26 726.01,782.27 726.29,793.27 M727.56,853.31 C727.76,864.33 727.95,875.36 728.12,886.38 M729.02,943.46 C729.20,954.50 729.38,965.53 729.58,976.56 M730.82,1035.18 C730.99,1041.71 731.16,1048.23 731.35,1054.76 M732.65,1044.64 C733.56,1030.48 734.27,1016.30 734.87,1002.11 M736.72,945.38 C737.00,934.36 737.25,923.35 737.49,912.33 M738.78,853.66 C739.02,843.10 739.27,832.54 739.54,821.98 M741.24,763.30 C741.61,752.26 742.02,741.23 742.47,730.20 M745.27,671.75 C745.83,661.80 746.44,651.85 747.10,641.91 M751.86,580.79 C752.76,570.87 753.72,560.96 754.75,551.06 M762.04,489.97 C763.39,479.97 764.82,469.99 766.34,460.02 M775.02,409.27 C777.55,396.33 780.36,383.44 783.56,370.65 M801.35,313.13 C804.89,303.78 808.76,294.55 813.00,285.50 M843.72,232.39 C849.74,223.89 856.16,215.66 863.00,207.80 M905.24,168.19 C913.52,161.93 922.17,156.16 931.09,150.83 M983.67,125.22 C994.46,120.95 1005.43,117.12 1016.51,113.67 M1070.44,99.72 C1088.15,95.99 1106.01,92.98 1123.94,90.48 M1183.88,83.81 C1194.42,82.88 1204.98,82.04 1215.54,81.27 M1265.06,77.94 C1280.49,76.95 1295.93,75.97 1311.37,75.04 M1363.62,72.18 C1378.07,71.48 1392.52,70.87 1406.98,70.39" fill="none" stroke="#ff0000" stroke-width="10.5" stroke-linecap="round" stroke-linejoin="round"/>
<circle cx="382.4" cy="73.0" r="6.7" fill="#ff0000"/>
<circle cx="481.1" cy="95.0" r="6.7" fill="#ff0000"/>
<circle cx="822.8" cy="266.1" r="6.7" fill="#ff0000"/>
<circle cx="872.5" cy="197.3" r="6.7" fill="#ff0000"/>
<circle cx="970.5" cy="130.7" r="6.7" fill="#ff0000"/>
<circle cx="1165.1" cy="85.6" r="6.7" fill="#ff0000"/>
<circle cx="1451.4" cy="69.3" r="6.7" fill="#ff0000"/>
</g>
<g font-family="'Liberation Serif','Times New Roman',serif" font-weight="bold" font-size="60" text-anchor="end" fill="#000">
<text transform="translate(203.2,72.3) scale(1,1.04)">0</text>
<text transform="translate(203.2,195.5) scale(1,1.04)">-5</text>
<text transform="translate(203.2,318.7) scale(1,1.04)">-10</text>
<text transform="translate(203.2,441.9) scale(1,1.04)">-15</text>
<text transform="translate(203.2,565.1) scale(1,1.04)">-20</text>
<text transform="translate(203.2,688.4) scale(1,1.04)">-25</text>
<text transform="translate(203.2,811.6) scale(1,1.04)">-30</text>
<text transform="translate(203.2,934.8) scale(1,1.04)">-35</text>
<text transform="translate(203.2,1058.0) scale(1,1.04)">-40</text>
</g>
<g font-family="'Liberation Serif','Times New Roman',serif" font-weight="bold" font-size="60" text-anchor="middle" fill="#000">
<text transform="translate(235.8,1120) scale(1,1.04)">50</text>
<text transform="translate(541.5,1120) scale(1,1.04)">100</text>
<text transform="translate(847.3,1120) scale(1,1.04)">150</text>
<text transform="translate(1153.0,1120) scale(1,1.04)">200</text>
<text transform="translate(1458.8,1120) scale(1,1.04)">250</text>
</g>
<text font-family="'Liberation Serif','Times New Roman',serif" font-weight="bold" font-size="84" x="846" y="1190.5" text-anchor="middle" fill="#000">Frequency (GHz)</text>
<text font-family="'Liberation Serif','Times New Roman',serif" font-weight="bold" font-size="84" transform="translate(102.5,512.5) rotate(-90)" text-anchor="middle" fill="#000">Transmission (dB)</text>
<line x1="769.7" y1="905" x2="911" y2="905" stroke="#000" stroke-width="5.8"/>
<rect x="833.5" y="899.5" width="11" height="12" fill="#000"/>
<line x1="773.5" y1="981.5" x2="810.5" y2="981.5" stroke="#ff0000" stroke-width="11" stroke-linecap="round"/>
<circle cx="839.3" cy="981.3" r="6.9" fill="#ff0000"/>
<line x1="863.2" y1="981.5" x2="901.4" y2="981.5" stroke="#ff0000" stroke-width="11" stroke-linecap="round"/>
<text font-family="'Liberation Serif','Times New Roman',serif" font-weight="bold" font-size="60" x="923.5" y="925.8" fill="#000">Full-wave simulation</text>
<text font-family="'Liberation Serif','Times New Roman',serif" font-weight="bold" font-size="60" x="923.5" y="1000.8" fill="#000">Equivalent circuit</text>
</svg>
</body></html>
